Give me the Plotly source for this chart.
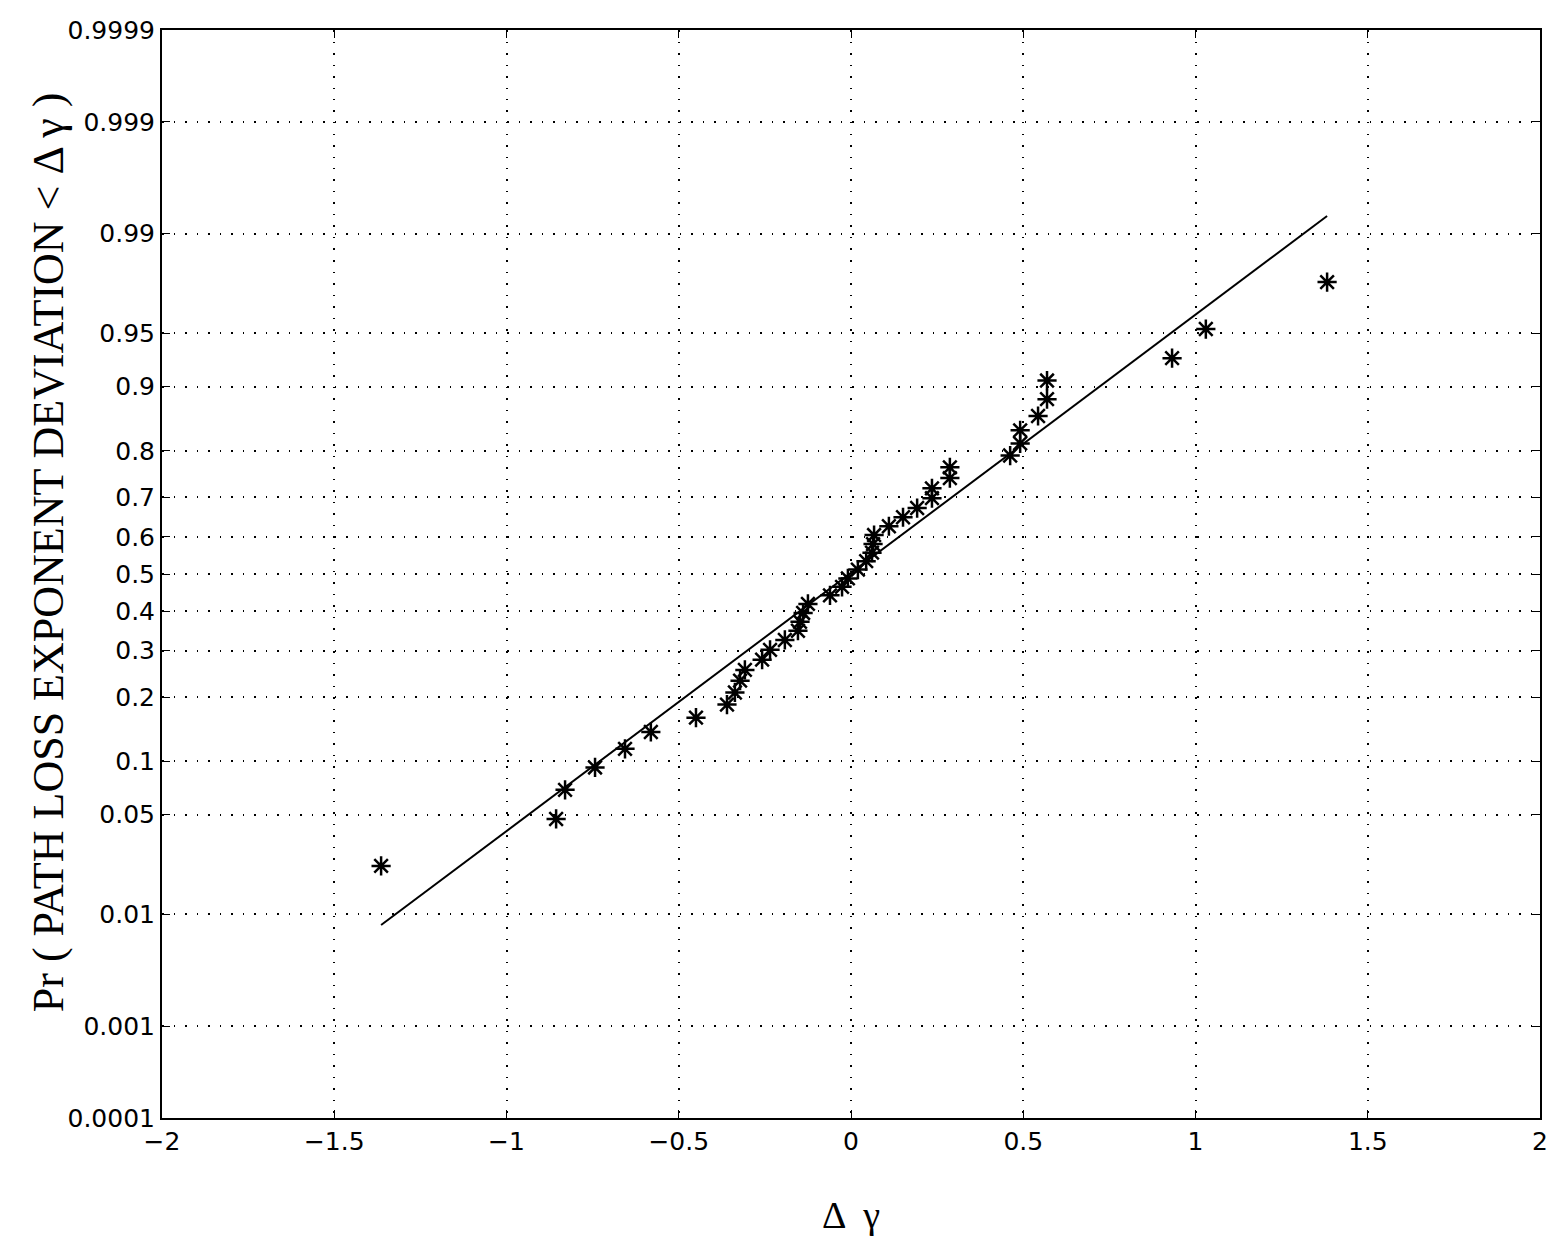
from statistics import NormalDist
import plotly.graph_objects as go

# sorted deviations and their plotting probabilities
dgamma = [-1.364, -0.856, -0.830, -0.743, -0.656, -0.581, -0.450, -0.360,
          -0.337, -0.322, -0.308, -0.258, -0.235, -0.192, -0.154, -0.148,
          -0.139, -0.125, -0.061, -0.026, -0.009, 0.020, 0.044, 0.061,
          0.064, 0.067, 0.110, 0.151, 0.192, 0.235, 0.235, 0.287,
          0.287, 0.462, 0.491, 0.491, 0.543, 0.569, 0.569, 0.932,
          1.030, 1.382]
prob = [0.023, 0.047, 0.070, 0.093, 0.116, 0.140, 0.163, 0.186,
        0.209, 0.233, 0.256, 0.279, 0.302, 0.326, 0.349, 0.372,
        0.395, 0.419, 0.442, 0.465, 0.488, 0.512, 0.535, 0.558,
        0.581, 0.605, 0.628, 0.651, 0.674, 0.698, 0.721, 0.744,
        0.767, 0.791, 0.814, 0.837, 0.860, 0.884, 0.907, 0.930,
        0.953, 0.977]

# fitted normal line end points
fit_x = [-1.364, 1.382]
fit_p = [0.0082, 0.9928]

ytick_p = [0.0001, 0.001, 0.01, 0.05, 0.1, 0.2, 0.3, 0.4, 0.5, 0.6, 0.7,
           0.8, 0.9, 0.95, 0.99, 0.999, 0.9999]
ytick_text = ['0.0001', '0.001', '0.01', '0.05', '0.1', '0.2', '0.3', '0.4',
              '0.5', '0.6', '0.7', '0.8', '0.9', '0.95', '0.99', '0.999',
              '0.9999']
xtick_vals = [-2, -1.5, -1, -0.5, 0, 0.5, 1, 1.5, 2]

nd = NormalDist()
def probit(ps):
    return [nd.inv_cdf(p) for p in ps]

fig = go.Figure()
fig.add_trace(go.Scatter(x=fit_x, y=probit(fit_p), mode='lines',
                         line=dict(color='black', width=2), showlegend=False))
fig.add_trace(go.Scatter(x=dgamma, y=probit(prob), mode='markers',
                         marker=dict(symbol='asterisk-open', size=16, color='black',
                                     line=dict(color='black', width=2.5)),
                         showlegend=False))

zlim = nd.inv_cdf(0.9999)
axis_common = dict(showline=True, linecolor='black', linewidth=2, mirror='ticks',
                   ticks='inside', ticklen=8, tickcolor='black', tickwidth=1,
                   showgrid=True, gridcolor='black', gridwidth=1.5, griddash='1.5px,10px',
                   zeroline=False, automargin=False,
                   tickfont=dict(family='DejaVu Sans', size=25, color='black'))

fig.update_layout(
    width=1549, height=1228,
    margin=dict(l=154, r=17, t=22, b=118),
    plot_bgcolor='white', paper_bgcolor='white',
    xaxis=dict(range=[-2, 2], tickvals=xtick_vals,
               title=dict(text='Δ  γ', standoff=52,
                          font=dict(family='Liberation Serif', size=38, color='black')),
               **axis_common),
    yaxis=dict(range=[-zlim, zlim], tickvals=probit(ytick_p), ticktext=ytick_text,
               **axis_common),
)
fig.add_annotation(text='Pr ( PATH LOSS EXPONENT DEVIATION < Δ γ )', textangle=-90,
                   xref='paper', yref='paper', x=0, y=0.52, xshift=-114,
                   xanchor='center', yanchor='middle', showarrow=False,
                   font=dict(family='Liberation Serif', size=44, color='black'))

fig.write_html("out.html")
